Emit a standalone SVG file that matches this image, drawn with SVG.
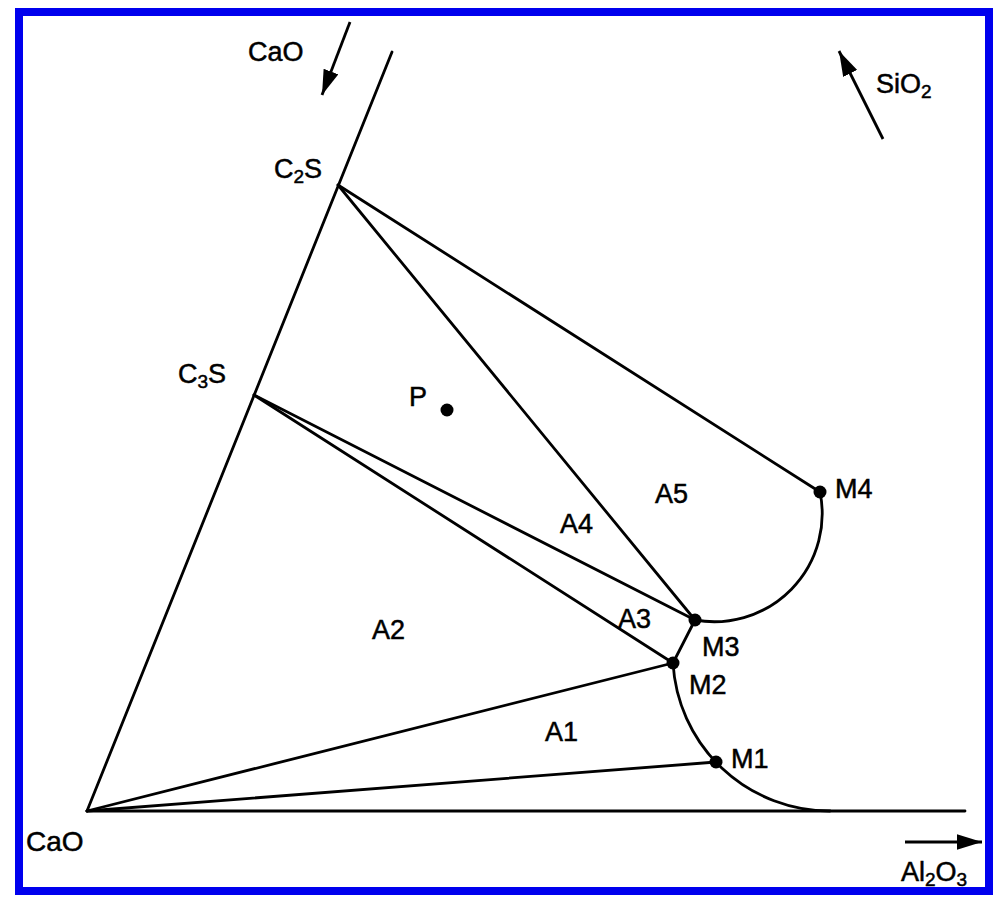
<svg xmlns="http://www.w3.org/2000/svg" width="999" height="899" viewBox="0 0 999 899">
<defs>
<style>
.ln{stroke:#000;stroke-width:2.8;fill:none;stroke-linecap:round}
.ar{stroke:#000;stroke-width:2.8;fill:none;stroke-linecap:butt}
.t{font-family:"Liberation Sans",Arial,sans-serif;font-size:27px;fill:#000;stroke:#000;stroke-width:0.5}
.s{font-size:19px}
.dot{fill:#000}
</style>
<marker id="ah" viewBox="0 0 16 10" refX="16" refY="5" markerWidth="9" markerHeight="5.6" markerUnits="strokeWidth" orient="auto">
<path d="M0,0 L16,5 L0,10 Z" fill="#000"/>
</marker>
</defs>
<rect x="0" y="0" width="999" height="899" fill="#fff"/>
<rect x="19" y="12" width="970" height="879" fill="none" stroke="#0000ee" stroke-width="8"/>
<g id="connectors">
<line class="ln" x1="87" y1="811" x2="392" y2="52"/>
<line class="ln" x1="87" y1="811" x2="965" y2="811"/>
<line class="ln" x1="338" y1="185" x2="820" y2="492"/>
<line class="ln" x1="338" y1="185" x2="695" y2="620"/>
<line class="ln" x1="254" y1="395" x2="695" y2="620"/>
<line class="ln" x1="254" y1="395" x2="673" y2="663"/>
<line class="ln" x1="695" y1="620" x2="673" y2="663"/>
<line class="ln" x1="87" y1="811" x2="673" y2="663"/>
<line class="ln" x1="87" y1="811" x2="716" y2="762"/>
<path class="ln" d="M 820 492 A 108 108 0 0 1 695 620"/>
<path class="ln" d="M 673 663 A 157 157 0 0 0 830 811"/>
<line class="ar" x1="350" y1="22" x2="322" y2="95" marker-end="url(#ah)"/>
<line class="ar" x1="883" y1="139" x2="839" y2="51" marker-end="url(#ah)"/>
<line class="ar" x1="905" y1="842" x2="982" y2="842" marker-end="url(#ah)"/>
</g>
<g id="P"><circle class="dot" cx="447" cy="410" r="6.5"/><text class="t" x="409" y="406">P</text></g>
<g id="M1"><circle class="dot" cx="716" cy="762" r="6.5"/><text class="t" x="731" y="768">M1</text></g>
<g id="M2"><circle class="dot" cx="673" cy="663" r="6.5"/><text class="t" x="689" y="694">M2</text></g>
<g id="M3"><circle class="dot" cx="695" cy="620" r="6.5"/><text class="t" x="702" y="656">M3</text></g>
<g id="M4"><circle class="dot" cx="820" cy="492" r="6.5"/><text class="t" x="835" y="498">M4</text></g>
<g id="C2S"><text class="t" x="274" y="178">C<tspan class="s" dy="5">2</tspan><tspan dy="-5">S</tspan></text></g>
<g id="C3S"><text class="t" x="178" y="383">C<tspan class="s" dy="5">3</tspan><tspan dy="-5">S</tspan></text></g>
<g id="CaO-origin"><text class="t" x="26" y="851" style="font-size:28px">CaO</text></g>
<g id="CaO-arrow"><text class="t" x="248" y="61">CaO</text></g>
<g id="SiO2-arrow"><text class="t" x="876" y="93">SiO<tspan class="s" dy="5">2</tspan></text></g>
<g id="Al2O3-arrow"><text class="t" x="901" y="881">Al<tspan class="s" dy="5">2</tspan><tspan dy="-5">O</tspan><tspan class="s" dy="5">3</tspan></text></g>
<g id="A1"><text class="t" x="545" y="741">A1</text></g>
<g id="A2"><text class="t" x="372" y="639">A2</text></g>
<g id="A3"><text class="t" x="618" y="628">A3</text></g>
<g id="A4"><text class="t" x="560" y="533">A4</text></g>
<g id="A5"><text class="t" x="655" y="503">A5</text></g>
</svg>
